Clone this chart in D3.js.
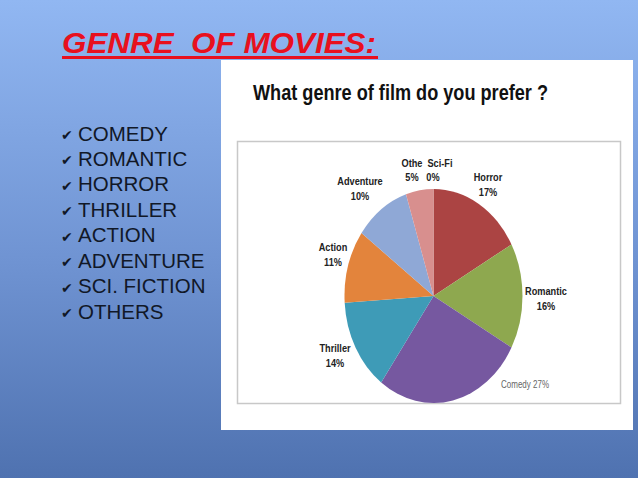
<!DOCTYPE html>
<html><head><meta charset="utf-8">
<script src="https://cdn.jsdelivr.net/npm/d3@7"></script>
<style>html,body{margin:0;padding:0;overflow:hidden;}</style>
</head><body>
<script>
const genres = ["Sci-Fi","Horror","Romantic","Comedy","Thriller","Action","Adventure","Others"];
const shares = [0,17,16,27,14,11,10,5];
const colors = ["#c0504d","#ab4443","#8ea84f","#7658a0","#3e9bb7","#e3843c","#8fa8d6","#d88f8e"];
const checklist = ["COMEDY","ROMANTIC","HORROR","THRILLER","ACTION","ADVENTURE","SCI. FICTION","OTHERS"];
const heading = "GENRE  OF MOVIES:";
const chartTitle = "What genre of film do you prefer ?";

const W=638,H=478;
const svg=d3.select("body").append("svg").attr("width",W).attr("height",H);
const defs=svg.append("defs");
const g=defs.append("linearGradient").attr("id","bg").attr("x1",0).attr("y1",0).attr("x2",0).attr("y2",1);
g.append("stop").attr("offset","0%").attr("stop-color","#91b7f2");
g.append("stop").attr("offset","55%").attr("stop-color","#6f93d2");
g.append("stop").attr("offset","100%").attr("stop-color","#4f72b0");
svg.append("rect").attr("width",W).attr("height",H).attr("fill","url(#bg)");

// heading
svg.append("text").attr("x",62).attr("y",53).text(heading)
  .attr("font-family","Liberation Sans, Arial, sans-serif").attr("font-weight","bold")
  .attr("font-style","italic").attr("font-size",29).attr("fill","#e8101e")
  .attr("textLength",314).attr("lengthAdjust","spacingAndGlyphs")
  .style("white-space","pre");
svg.append("rect").attr("x",62).attr("y",56).attr("width",316).attr("height",3).attr("fill","#e8101e");

// checklist
const yL=d3.scalePoint().domain(checklist).range([133,311]);
checklist.forEach(c=>{
  svg.append("text").attr("x",61).attr("y",yL(c)+7).text("\u2714")
    .attr("font-family","DejaVu Sans, sans-serif").attr("font-size",14).attr("fill","#111827");
  svg.append("text").attr("x",78).attr("y",yL(c)+7.5).text(c)
    .attr("font-family","Liberation Sans, Arial, sans-serif").attr("font-size",20.5).attr("fill","#111827");
});

// white panel
svg.append("rect").attr("x",221).attr("y",60).attr("width",412).attr("height",370).attr("fill","#ffffff");
svg.append("text").attr("x",253).attr("y",100).text(chartTitle)
  .attr("font-family","Liberation Sans, Arial, sans-serif")
  .attr("font-weight","bold").attr("font-size",22).attr("fill","#111")
  .attr("textLength",295).attr("lengthAdjust","spacingAndGlyphs");
svg.append("rect").attr("x",237.5).attr("y",141.5).attr("width",383).attr("height",262)
  .attr("fill","none").attr("stroke","#c8c8c8").attr("stroke-width",1.5);

// pie
const cx=433.5, cy=296, rx=89, ry=107;
const data=genres.map((d,i)=>({genre:d,value:shares[i],color:colors[i]}));
const pie=d3.pie().value(d=>d.value).sort(null);
const arc=d3.arc().innerRadius(0).outerRadius(1);
const pg=svg.append("g").attr("transform",`translate(${cx},${cy}) scale(${rx},${ry})`);
pg.selectAll("path").data(pie(data)).join("path").attr("d",arc).attr("fill",d=>d.data.color);

// labels
const lab=[
  {genre:"Horror",x:488,y:177,y2:192},
  {genre:"Romantic",x:546,y:291,y2:306},
  {genre:"Thriller",x:335,y:348,y2:363},
  {genre:"Action",x:333,y:247,y2:262},
  {genre:"Adventure",x:360,y:181,y2:196},
  {genre:"Others",x:412,y:163,y2:177,name:"Othe"},
  {genre:"Sci-Fi",x:440,y:163,y2:177,px:433}
];
const lf="Liberation Sans, Arial, sans-serif";
function narrow(x,y,txt,size,weight,fill){
  svg.append("g").attr("transform",`translate(${x},${y}) scale(0.8,1)`)
    .append("text").attr("text-anchor","middle").text(txt)
    .attr("font-family",lf).attr("font-size",size).attr("font-weight",weight).attr("fill",fill);
}
lab.forEach(l=>{
  const v=shares[genres.indexOf(l.genre)];
  narrow(l.x,l.y+4,l.name||l.genre,11.5,"bold","#222");
  narrow(l.px||l.x,l.y2+4,v+"%",11.5,"bold","#222");
});
narrow(525,388,"Comedy "+shares[genres.indexOf("Comedy")]+"%",10,"normal","#666");
</script>
</body></html>
